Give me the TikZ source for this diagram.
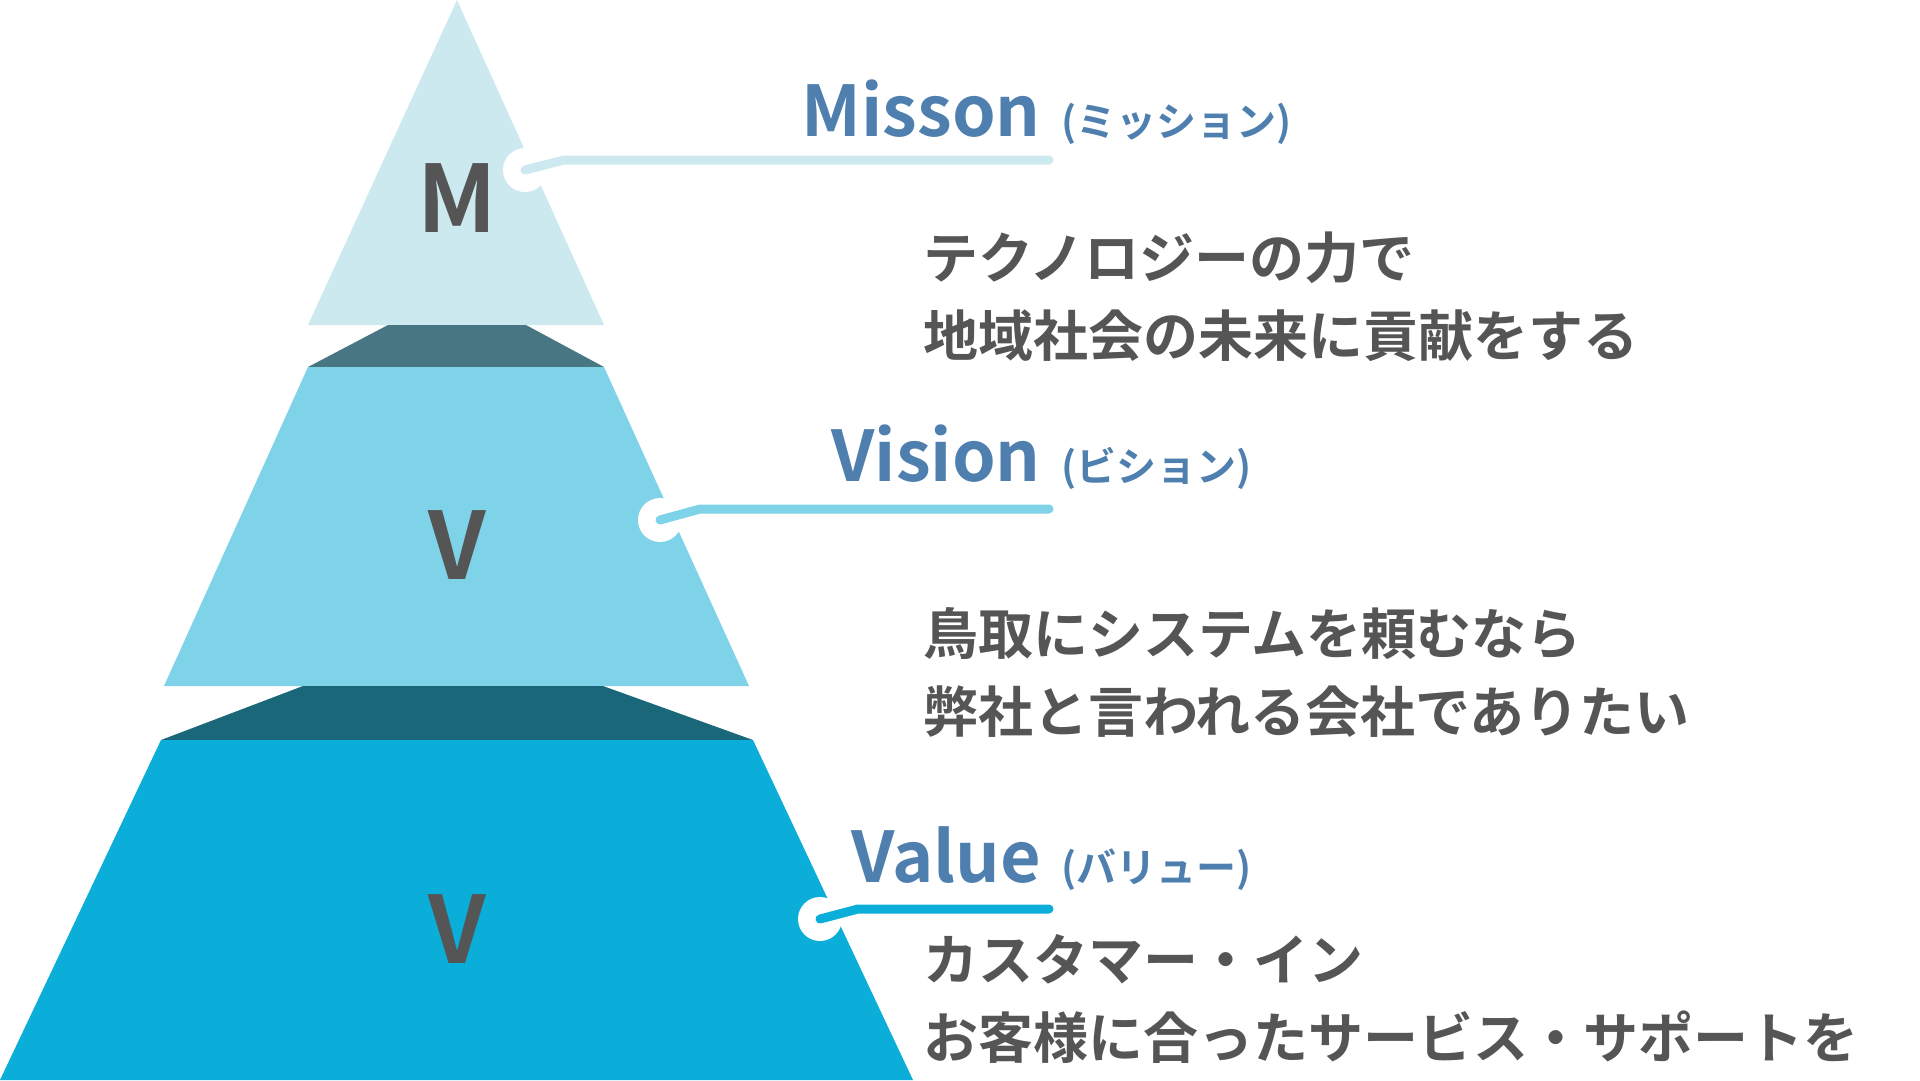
\documentclass[tikz,border=0pt]{standalone}
\usepackage{fontspec}
\setmainfont{Noto Sans CJK JP}[BoldFont={* Bold}]
\usetikzlibrary{positioning}
\definecolor{lvlm}{HTML}{CDE9F0}
\definecolor{lvlv}{HTML}{7FD3E8}
\definecolor{lvlw}{HTML}{0BADD9}
\definecolor{bandm}{HTML}{487783}
\definecolor{bandv}{HTML}{1A677A}
\definecolor{txtgray}{HTML}{555555}
\definecolor{ttlblue}{HTML}{4F7FAE}
\tikzset{
  letter/.style={font=\bfseries\fontsize{93}{93}\selectfont, text=txtgray},
  ttl/.style={font=\bfseries\fontsize{70}{70}\selectfont, text=ttlblue, anchor=base east, inner sep=0pt},
  sub/.style={font=\bfseries\fontsize{40}{40}\selectfont, text=ttlblue, anchor=base west, inner sep=0pt},
  body/.style={font=\bfseries\fontsize{55}{78}\selectfont, text=txtgray, anchor=north west, align=left, inner sep=0pt},
  dot/.style={circle, fill=white, minimum size=44pt, inner sep=0pt},
  link/.style={line width=9pt, line cap=round, line join=round}
}
\begin{document}
\begin{tikzpicture}[x=1pt,y=-1pt]
\useasboundingbox (0,0) rectangle (1920,1080);
% pyramid
\fill[lvlm] (457,0) -- (604,325) -- (308,325) -- cycle;
\fill[bandm] (388,325) -- (526,325) -- (604,367) -- (308,367) -- cycle;
\fill[lvlv] (308,367) -- (604,367) -- (749,686) -- (164,686) -- cycle;
\fill[bandv] (303,686) -- (603,686) -- (753,740) -- (161,740) -- cycle;
\fill[lvlw] (161,740) -- (753,740) -- (913,1080) -- (0,1080) -- cycle;
\node[letter] (lm) at (457,198) {M};
\node[letter] (lv) at (457,545) {V};
\node[letter] (lw) at (457,929) {V};
% connectors
\node[dot] (dm) at (525,170) {};
\node[dot] (dv) at (660,520) {};
\node[dot] (dw) at (820,919) {};
\coordinate (em) at (1049,160);
\coordinate (ev) at (1049,509);
\coordinate (ew) at (1049,909);
\draw[link, lvlm] (dm.center) -- (564,160) -- (em);
\draw[link, lvlv] (dv.center) -- (700,509) -- (ev);
\draw[link, lvlw] (dw.center) -- (858,909) -- (ew);
% titles
\node[ttl] (tm) at (1041,136) {Misson};
\node[sub, right=20pt of tm.base east, anchor=base west] (sm) {(ミッション)};
\node[ttl] (tv) at (1041,481) {Vision};
\node[sub, right=20pt of tv.base east, anchor=base west] (sv) {(ビション)};
\node[ttl] (tw) at (1041,882) {Value};
\node[sub, right=20pt of tw.base east, anchor=base west] (sw) {(バリュー)};
% statements
\node[body] (bm) at (923,232) {テクノロジーの力で\\地域社会の未来に貢献をする};
\node[body] (bv) at (923,607) {鳥取にシステムを頼むなら\\弊社と言われる会社でありたい};
\node[body] (bw) at (923,934) {カスタマー・イン\\お客様に合ったサービス・サポートを};
\end{tikzpicture}
\end{document}
